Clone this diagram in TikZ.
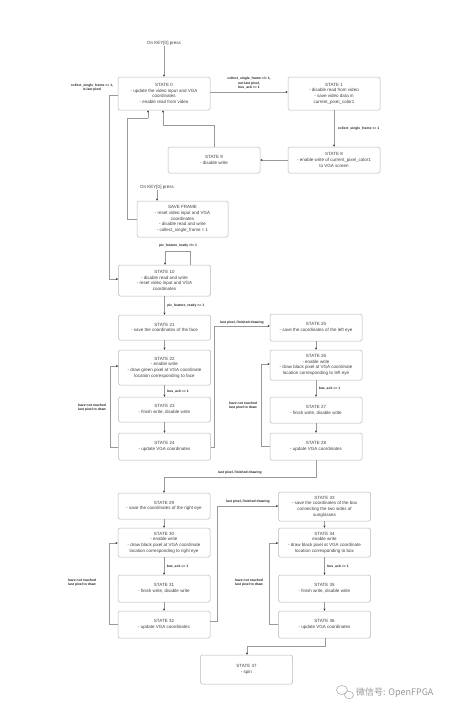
\documentclass[tikz,border=0pt]{standalone}
\usepackage{fontspec}
\setmainfont{Liberation Sans}
\newfontfamily\cjkfont{Noto Sans CJK SC}
\usetikzlibrary{arrows.meta}
\begin{document}
\begin{tikzpicture}[x=1pt,y=-1pt,
  box/.style={draw=black!28, line width=0.5pt, rounded corners=1.5pt, minimum width=92pt, align=center,
    font=\fontsize{4.5}{5.6}\selectfont, text=black!75, inner sep=1pt},
  lbl/.style={font=\fontsize{3.4}{4.2}\selectfont\bfseries, text=black!85, align=center, inner sep=0.5pt},
  plain/.style={font=\fontsize{4.5}{5.6}\selectfont, text=black!75, inner sep=0.5pt},
  conn/.style={draw=black!40, line width=0.6pt, -{Stealth[length=2.2pt,width=2pt,black!85]}},
  seg/.style={draw=black!40, line width=0.6pt}]
\useasboundingbox (0,0) rectangle (474,713);
\fill[white] (0,0) rectangle (474,713);

% boxes
\node[box, minimum height=33pt] (s0) at (164,93.5) {STATE 0\\- update the video input and VGA\\coordinates\\- enable read from video};
\node[box, minimum height=33pt] (s1) at (334,93.5) {STATE 1\\- disable read from video\\- save video data in\\current\_pixel\_color1};
\node[box, minimum height=26pt] (s8) at (334,160) {STATE 8\\- enable write of current\_pixel\_color1\\to VGA screen};
\node[box, minimum height=26pt] (s9) at (214,160) {STATE 9\\- disable write};
\node[box, minimum height=36pt, minimum width=91pt] (sf) at (182.5,219) {SAVE FRAME\\- reset video input and VGA\\coordinates\\- disable read and write\\- collect\_single\_frame = 1};
\node[box, minimum height=31pt] (s10) at (164.5,280.5) {STATE 10\\- disable read and write\\- reset video input and VGA\\coordinates};
\node[box, minimum height=25pt] (s21) at (164.5,327.5) {STATE 21\\- save the coordinates of the face};
\node[box, minimum height=35pt] (s22) at (164.5,367.5) {STATE 22\\- enable write\\- draw green pixel at VGA coordinate\\location corresponding to face};
\node[box, minimum height=25pt] (s23) at (164.5,409.5) {STATE 23\\- finish write, disable write};
\node[box, minimum height=27pt] (s24) at (164.5,446.5) {STATE 24\\- update VGA coordinates};
\node[box, minimum height=27pt] (s25) at (316,327.5) {STATE 25\\- save the coordinates of the left eye};
\node[box, minimum height=30pt] (s26) at (316,365) {STATE 26\\- enable write\\- draw black pixel at VGA coordinate\\location corresponding to left eye};
\node[box, minimum height=26pt] (s27) at (316,410) {STATE 27\\- finish write, disable write};
\node[box, minimum height=27pt] (s28) at (316,446.5) {STATE 28\\- update VGA coordinates};
\node[box, minimum height=26pt] (s29) at (164,506) {STATE 29\\- save the coordinates of the right eye};
\node[box, minimum height=29pt] (s30) at (164,542.5) {STATE 30\\- enable write\\- draw black pixel at VGA coordinate\\location corresponding to right eye};
\node[box, minimum height=27pt] (s31) at (164,588.5) {STATE 31\\- finish write, disable write};
\node[box, minimum height=27pt] (s32) at (164,624.5) {STATE 32\\- update VGA coordinates};
\node[box, minimum height=29pt] (s33) at (324.5,506.5) {STATE 33\\- save the coordinates of the box\\connecting the two sides of\\sunglasses};
\node[box, minimum height=29pt] (s34) at (324.5,542.5) {STATE 34\\enable write\\- draw black pixel at VGA coordinate\\location corresponding to box};
\node[box, minimum height=27pt] (s35) at (324.5,588.5) {STATE 35\\- finish write, disable write};
\node[box, minimum height=27pt] (s36) at (324.5,624.5) {STATE 36\\- update VGA coordinates};
\node[box, minimum height=29pt] (s37) at (246.5,669.5) {STATE 37\\- spin};

% start labels
\node[plain] (k1) at (164,43) {On KEY[0] press};
\node[plain] (k2) at (157,187) {On KEY[0] press};

% coordinates for bends
\coordinate (a1) at (214,125);
\coordinate (a2) at (163,125);
\coordinate (b1) at (127,219);
\coordinate (b2) at (127,118);
\coordinate (b3) at (148,118);
\coordinate (c1) at (109,95);
\coordinate (c2) at (109,279);
\coordinate (d1) at (190,251);
\coordinate (d2) at (165,251);

% connectors top part
\draw[conn] (k1.south) -- (s0.north);
\draw[conn] (s0.east |- 0,92) -- (s1.west |- 0,92) node[lbl, midway, above=2.5pt] {collect\_single\_frame =/= 1,\\not last pixel,\\bus\_ack == 1};
\draw[conn] (s1) -- (s8) node[lbl, midway, right=3pt] {collect\_single\_frame == 1};
\draw[conn] (s8) -- (s9);
\draw[seg] (s9.north) -- (a1) -- (a2);
\draw[conn] (a2) -- (a2 |- s0.south);
\draw[conn] (k2.south) -- (k2.south |- sf.north);
\draw[seg] (sf.west) -- (b1) -- (b2) -- (b3);
\draw[conn] (b3) -- (b3 |- s0.south);
\draw[seg] (s0.west |- c1) -- (c1) -- (c2);
\draw[conn] (c2) -- (s10.west |- c2);
\node[lbl] (l0) at (92,88) {collect\_single\_frame == 1,\\is last pixel};
\draw[seg] (d1 |- s10.north) -- (d1) -- (d2);
\draw[conn] (d2) -- (d2 |- s10.north);
\node[lbl] (lpf) at (178,246) {pic\_feature\_ready =/= 1};
\draw[conn] (s10) -- (s21) node[lbl, midway, right=2pt] {pic\_feature\_ready == 1};

% face column
\draw[conn] (s21) -- (s22);
\draw[conn] (s22) -- (s23) node[lbl, midway, right=2pt] {bus\_ack == 1};
\draw[conn] (s23) -- (s24);
\coordinate (e1) at (110,447);
\coordinate (e2) at (110,366);
\draw[seg] (s24.west |- e1) -- (e1) -- (e2);
\draw[conn] (e2) -- (s22.west |- e2);
\node[lbl] (l1) at (92,408) {have not reached\\last pixel to draw};
\coordinate (f1) at (214,447);
\coordinate (f2) at (214,326);
\draw[seg] (s24.east |- f1) -- (f1) -- (f2);
\draw[conn] (f2) -- (s25.west |- f2);
\node[lbl] (l2) at (242,322.5) {last pixel, finished drawing};

% left eye column
\draw[conn] (s25) -- (s26);
\draw[conn] (s26) -- (s27) node[lbl, midway, right=2pt] {bus\_ack == 1};
\draw[conn] (s27) -- (s28);
\coordinate (g1) at (261,446);
\coordinate (g2) at (261,364);
\draw[seg] (s28.west |- g1) -- (g1) -- (g2);
\draw[conn] (g2) -- (s26.west |- g2);
\node[lbl] (l3) at (243,406) {have not reached\\last pixel to draw};
\coordinate (h1) at (316,477);
\coordinate (h2) at (164,477);
\draw[seg] (s28.south) -- (h1) -- (h2);
\draw[conn] (h2) -- (s29.north);
\node[lbl] (l4) at (240,472.5) {last pixel, finished drawing};

% right eye column
\draw[conn] (s29) -- (s30);
\draw[conn] (s30) -- (s31) node[lbl, midway, right=2pt] {bus\_ack == 1};
\draw[conn] (s31) -- (s32);
\coordinate (i1) at (109,624);
\coordinate (i2) at (109,543);
\draw[seg] (s32.west |- i1) -- (i1) -- (i2);
\draw[conn] (i2) -- (s30.west |- i2);
\node[lbl] (l5) at (82,583) {have not reached\\last pixel to draw};
\coordinate (j1) at (217,621);
\coordinate (j2) at (217,506);
\draw[seg] (s32.east |- j1) -- (j1) -- (j2);
\draw[conn] (j2) -- (s33.west |- j2);
\node[lbl] (l6) at (248,501.5) {last pixel, finished drawing};

% box column
\draw[conn] (s33) -- (s34);
\draw[conn] (s34) -- (s35) node[lbl, midway, right=2pt] {bus\_ack == 1};
\draw[conn] (s35) -- (s36);
\coordinate (m1) at (269,624);
\coordinate (m2) at (269,543);
\draw[seg] (s36.west |- m1) -- (m1) -- (m2);
\draw[conn] (m2) -- (s34.west |- m2);
\node[lbl] (l7) at (249,583) {have not reached\\last pixel to draw};
\coordinate (n1) at (325,646);
\coordinate (n2) at (247,646);
\draw[seg] (s36.south -| n1) -- (n1) -- (n2);
\draw[conn] (n2) -- (s37.north -| n2);

% watermark
\draw[black!35, line width=0.5pt] (342,690) ellipse (5.5pt and 4.5pt);
\draw[black!35, line width=0.5pt, fill=white] (349,695) ellipse (4.5pt and 3.8pt);
\node[font=\cjkfont\fontsize{9}{10}\selectfont, text=black!40, anchor=west, inner sep=0pt] (wm) at (356,693) {微信号: OpenFPGA};
\end{tikzpicture}
\end{document}
